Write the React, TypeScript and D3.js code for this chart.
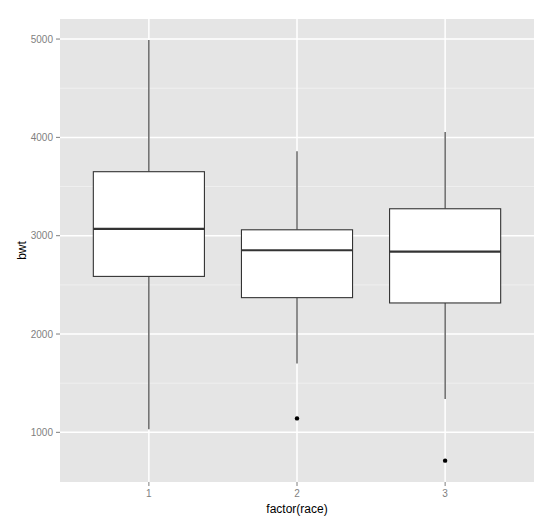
import React from "react";
import * as d3 from "d3";

const categories = ["1", "2", "3"];
const q1 = [2586, 2370, 2316];
const medians = [3070, 2852, 2838];
const q3 = [3651, 3060, 3274];
const whiskerLow = [1032, 1701, 1340];
const whiskerHigh = [4990, 3860, 4054];
const outliers: [string, number][] = [["2", 1142], ["3", 712]];
const yTicks = [1000, 2000, 3000, 4000, 5000];
const yMinor = [1500, 2500, 3500, 4500];

const W = 554, H = 527;
const M = { left: 60, right: 20, top: 19, bottom: 45 };

export default function App() {
  const x = d3.scaleBand().domain(categories).range([M.left, W - M.right]).paddingInner(0).paddingOuter(0);
  const step = x.bandwidth();
  const pw = W - M.left - M.right;
  // discrete expansion: 0.6 units each side
  const xc = d3.scalePoint().domain(categories).range([M.left + pw * 0.6 / 3.2, W - M.right - pw * 0.6 / 3.2]);
  const dataMin = 709, dataMax = 4990;
  const ex = (dataMax - dataMin) * 0.05;
  const y = d3.scaleLinear().domain([dataMin - ex, dataMax + ex]).range([H - M.bottom, M.top]);
  const boxW = (pw / 3.2) * 0.75;
  const stroke = "#333333";
  void step;
  return (
    <svg width={W} height={H} style={{ position: "absolute", left: 0, top: 0 }}>
      <rect x={0} y={0} width={W} height={H} fill="white" />
      <rect x={M.left} y={M.top} width={pw} height={H - M.top - M.bottom} fill="#E5E5E5" />
      {yMinor.map((t) => (
        <line key={"mn" + t} x1={M.left} x2={W - M.right} y1={y(t)} y2={y(t)} stroke="#F2F2F2" strokeWidth={0.8} />
      ))}
      {yTicks.map((t) => (
        <line key={"mj" + t} x1={M.left} x2={W - M.right} y1={y(t)} y2={y(t)} stroke="white" strokeWidth={1.5} />
      ))}
      {categories.map((c) => (
        <line key={"vx" + c} x1={xc(c)!} x2={xc(c)!} y1={M.top} y2={H - M.bottom} stroke="white" strokeWidth={1.5} />
      ))}
      {categories.map((c, i) => {
        const cx = xc(c)!;
        return (
          <g key={"b" + c}>
            <line x1={cx} x2={cx} y1={y(whiskerHigh[i])} y2={y(q3[i])} stroke={stroke} strokeWidth={1.1} />
            <line x1={cx} x2={cx} y1={y(q1[i])} y2={y(whiskerLow[i])} stroke={stroke} strokeWidth={1.1} />
            <rect x={cx - boxW / 2} y={y(q3[i])} width={boxW} height={y(q1[i]) - y(q3[i])} fill="white" stroke={stroke} strokeWidth={1.1} />
            <line x1={cx - boxW / 2} x2={cx + boxW / 2} y1={y(medians[i])} y2={y(medians[i])} stroke={stroke} strokeWidth={2.2} />
          </g>
        );
      })}
      {outliers.map(([c, v], i) => (
        <circle key={"o" + i} cx={xc(c)!} cy={y(v)} r={2.2} fill="black" />
      ))}
      {yTicks.map((t) => (
        <g key={"yt" + t}>
          <line x1={M.left - 4} x2={M.left} y1={y(t)} y2={y(t)} stroke="#7F7F7F" strokeWidth={1} />
          <text x={M.left - 7} y={y(t)} dy="0.35em" textAnchor="end" fontFamily="Liberation Sans, Arial, sans-serif" fontSize={10} fill="#7F7F7F">{t}</text>
        </g>
      ))}
      {categories.map((c) => (
        <g key={"xt" + c}>
          <line x1={xc(c)!} x2={xc(c)!} y1={H - M.bottom} y2={H - M.bottom + 4} stroke="#7F7F7F" strokeWidth={1} />
          <text x={xc(c)!} y={H - M.bottom + 15} textAnchor="middle" fontFamily="Liberation Sans, Arial, sans-serif" fontSize={10} fill="#7F7F7F">{c}</text>
        </g>
      ))}
      <text x={M.left + pw / 2} y={513} textAnchor="middle" fontFamily="Liberation Sans, Arial, sans-serif" fontSize={12} fill="black">factor(race)</text>
      <text transform={`translate(26,${(M.top + H - M.bottom) / 2}) rotate(-90)`} textAnchor="middle" fontFamily="Liberation Sans, Arial, sans-serif" fontSize={12} fill="black">bwt</text>
    </svg>
  );
}
